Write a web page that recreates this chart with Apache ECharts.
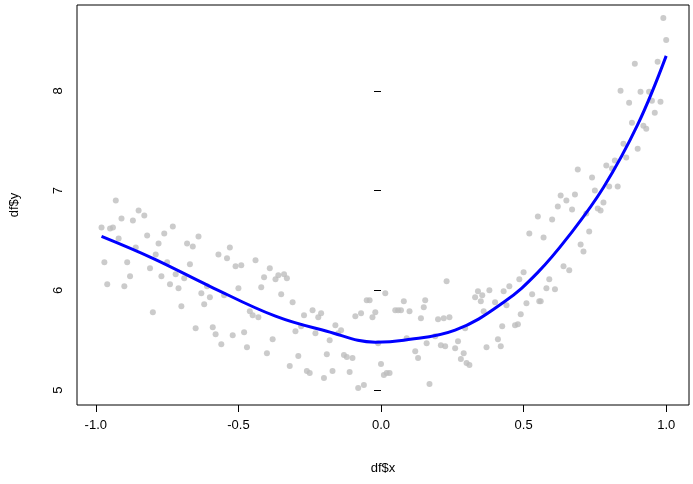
<!DOCTYPE html>
<html><head><meta charset="utf-8">
<script src="https://cdn.jsdelivr.net/npm/echarts@6/dist/echarts.min.js"></script>
<style>html,body{margin:0;padding:0;background:#fff}#c{width:693px;height:484px}</style>
</head><body><div id="c"></div>
<script>
const xs = [-0.98,-0.97,-0.96,-0.95,-0.94,-0.93,-0.92,-0.91,-0.90,-0.89,-0.88,-0.87,-0.86,-0.85,-0.83,-0.82,-0.81,-0.80,-0.79,-0.78,-0.77,-0.76,-0.75,-0.74,-0.73,-0.72,-0.71,-0.70,-0.69,-0.68,-0.67,-0.66,-0.65,-0.64,-0.63,-0.62,-0.61,-0.60,-0.59,-0.58,-0.57,-0.56,-0.55,-0.54,-0.53,-0.52,-0.51,-0.50,-0.49,-0.48,-0.47,-0.46,-0.45,-0.44,-0.43,-0.42,-0.41,-0.40,-0.39,-0.38,-0.37,-0.36,-0.35,-0.34,-0.33,-0.32,-0.31,-0.30,-0.29,-0.28,-0.27,-0.26,-0.25,-0.24,-0.23,-0.22,-0.21,-0.20,-0.19,-0.18,-0.17,-0.16,-0.15,-0.14,-0.13,-0.12,-0.11,-0.10,-0.09,-0.08,-0.07,-0.06,-0.05,-0.04,-0.03,-0.02,-0.01,0.00,0.01,0.015,0.02,0.03,0.05,0.06,0.07,0.08,0.09,0.10,0.12,0.13,0.14,0.15,0.155,0.16,0.17,0.19,0.20,0.21,0.22,0.225,0.23,0.24,0.26,0.27,0.28,0.29,0.295,0.30,0.31,0.33,0.34,0.35,0.355,0.36,0.37,0.38,0.40,0.41,0.42,0.425,0.43,0.44,0.45,0.47,0.48,0.485,0.49,0.50,0.51,0.52,0.53,0.55,0.555,0.56,0.57,0.58,0.59,0.60,0.61,0.62,0.63,0.64,0.65,0.66,0.67,0.68,0.69,0.70,0.71,0.72,0.73,0.74,0.75,0.76,0.77,0.78,0.79,0.80,0.81,0.82,0.83,0.84,0.85,0.86,0.87,0.88,0.89,0.90,0.91,0.92,0.93,0.94,0.95,0.96,0.97,0.98,0.99,1.00];
const ys = [6.63,6.28,6.06,6.62,6.63,6.90,6.52,6.72,6.04,6.28,6.14,6.70,6.43,6.80,6.75,6.55,6.22,5.78,6.36,6.47,6.14,6.57,6.28,6.06,6.64,6.16,6.02,5.84,6.12,6.47,6.26,6.44,5.62,6.54,5.97,5.86,6.04,5.93,5.63,5.56,6.36,5.46,5.95,6.32,6.43,5.55,6.24,6.02,6.25,5.58,5.43,5.79,5.75,6.30,5.73,6.03,6.13,5.37,6.22,5.51,6.11,6.15,5.96,6.16,6.12,5.24,5.88,5.59,5.34,5.64,5.75,5.19,5.17,5.80,5.57,5.73,5.77,5.12,5.36,5.50,5.19,5.65,5.57,5.60,5.35,5.33,5.18,5.32,5.74,5.02,5.77,5.05,5.90,5.90,5.73,5.78,5.47,5.26,5.15,5.97,5.17,5.17,5.80,5.80,5.80,5.89,5.52,5.79,5.39,5.32,5.72,5.83,5.90,5.47,5.06,5.54,5.71,5.45,5.72,5.44,6.09,5.73,5.42,5.49,5.31,5.37,5.62,5.27,5.25,5.93,5.99,5.89,5.95,5.79,5.43,6.00,5.88,5.51,5.44,5.64,5.99,5.85,6.04,5.65,5.66,6.11,5.76,6.18,5.87,6.57,5.96,6.74,5.89,5.89,6.53,6.02,6.11,6.71,6.01,6.84,6.95,6.24,6.90,6.20,6.81,6.96,7.21,6.46,6.39,6.77,6.59,7.13,7.00,6.82,6.80,6.88,7.25,7.04,7.22,7.30,7.04,8.00,7.47,7.33,7.88,7.68,8.27,7.42,7.99,7.65,7.62,7.99,7.90,7.78,8.29,7.89,8.73,8.51];
const fitX = [-0.98,-0.80,-0.60,-0.37,-0.19,-0.02,0.08,0.26,0.43,0.55,0.66,0.78,0.90,1.00];
const fitY = [6.54,6.32,6.04,5.74,5.59,5.48,5.50,5.60,5.88,6.18,6.55,7.03,7.66,8.35];
const xTicks = [-1,-0.5,0,0.5,1];
const xTickLabels = ['-1.0','-0.5','0.0','0.5','1.0'];
const yTicks = [5,6,7,8];

const font = 'Liberation Sans, Arial, sans-serif';
const chart = echarts.init(document.getElementById('c'));
chart.setOption({
  animation:false,
  grid:{left:75,right:4,top:5,bottom:79,show:true,borderColor:'#000',borderWidth:1,containLabel:false},
  xAxis:{type:'value',min:-1.066,max:1.08,
    name:'df$x',nameLocation:'middle',nameGap:57,nameTextStyle:{color:'#000',fontSize:13,fontFamily:font},
    axisLine:{show:false},splitLine:{show:false},
    axisTick:{show:true,length:7,inside:false,lineStyle:{color:'#000'},customValues:xTicks},
    axisLabel:{color:'#000',fontSize:13,fontFamily:font,margin:14,customValues:xTicks,
      formatter:v=>{const i=xTicks.findIndex(t=>Math.abs(t-v)<1e-9);return i>=0?xTickLabels[i]:'';}}},
  yAxis:{type:'value',min:4.85,max:8.86,
    name:'df$y',nameLocation:'middle',nameGap:56,nameRotate:90,nameTextStyle:{color:'#000',fontSize:13,fontFamily:font},
    axisLine:{show:false},splitLine:{show:false},
    axisTick:{show:true,length:7,lineStyle:{color:'#000'},customValues:yTicks},
    axisLabel:{color:'#000',fontSize:13,fontFamily:font,rotate:90,margin:12,customValues:yTicks,formatter:v=>String(v)}},
  series:[
    {type:'scatter',data:xs.map((x,i)=>[x,ys[i]]),symbolSize:6,itemStyle:{color:'#BEBEBE'},silent:true},
    {type:'line',data:fitX.map((x,i)=>[x,fitY[i]]),smooth:0.4,showSymbol:false,lineStyle:{color:'#0000FF',width:3},silent:true}
  ]
});
</script></body></html>
